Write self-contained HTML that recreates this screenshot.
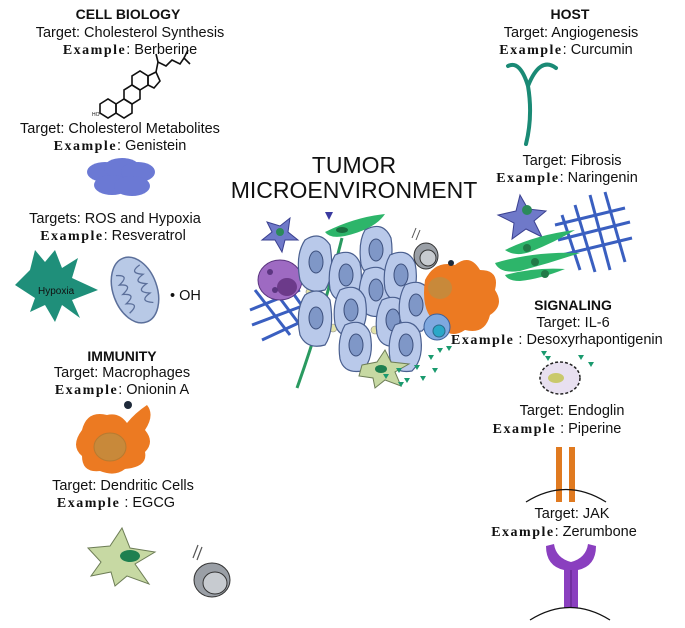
<!DOCTYPE html>
<html><head><meta charset="utf-8"><style>
html,body{margin:0;padding:0;background:#fff;overflow:hidden;}
svg{display:block;}
text{font-family:"Liberation Sans",sans-serif;font-size:14.5px;fill:#111;}
.b{font-weight:bold;font-size:14px;}
.ex{font-family:"Liberation Serif",serif;font-weight:bold;letter-spacing:1.5px;font-size:14px;}
.t{font-size:23px;}
.cell{fill:#b9c9ea;stroke:#4a5f8f;stroke-width:1.2;}
.nuc{fill:#7f97c7;stroke:#3c4f7c;stroke-width:1;}
</style></head><body>
<svg width="685" height="628" viewBox="0 0 685 628" xmlns="http://www.w3.org/2000/svg">
<!-- LEFT TEXT -->
<text x="128" y="19" text-anchor="middle" class="b">CELL BIOLOGY</text>
<text x="130" y="37" text-anchor="middle">Target: Cholesterol Synthesis</text>
<text x="130" y="54" text-anchor="middle"><tspan class="ex">Example</tspan>: Berberine</text>
<text x="120" y="133" text-anchor="middle">Target: Cholesterol Metabolites</text>
<text x="120" y="150" text-anchor="middle"><tspan class="ex">Example</tspan>: Genistein</text>
<text x="115" y="223" text-anchor="middle">Targets: ROS and Hypoxia</text>
<text x="113" y="240" text-anchor="middle"><tspan class="ex">Example</tspan>: Resveratrol</text>
<text x="122" y="361" text-anchor="middle" class="b">IMMUNITY</text>
<text x="122" y="377" text-anchor="middle">Target: Macrophages</text>
<text x="122" y="394" text-anchor="middle"><tspan class="ex">Example</tspan>: Onionin A</text>
<text x="123" y="490" text-anchor="middle">Target: Dendritic Cells</text>
<text x="116" y="507" text-anchor="middle"><tspan class="ex">Example</tspan> : EGCG</text>

<!-- RIGHT TEXT -->
<text x="570" y="19" text-anchor="middle" class="b">HOST</text>
<text x="571" y="37" text-anchor="middle">Target: Angiogenesis</text>
<text x="566" y="54" text-anchor="middle"><tspan class="ex">Example</tspan>: Curcumin</text>
<text x="572" y="165" text-anchor="middle">Target: Fibrosis</text>
<text x="567" y="182" text-anchor="middle"><tspan class="ex">Example</tspan>: Naringenin</text>
<text x="573" y="310" text-anchor="middle" class="b">SIGNALING</text>
<text x="573" y="327" text-anchor="middle">Target: IL-6</text>
<text x="451" y="344"><tspan class="ex">Example</tspan> : Desoxyrhapontigenin</text>
<text x="572" y="415" text-anchor="middle">Target: Endoglin</text>
<text x="557" y="433" text-anchor="middle"><tspan class="ex">Example</tspan> : Piperine</text>
<text x="572" y="518" text-anchor="middle">Target: JAK</text>
<text x="564" y="536" text-anchor="middle"><tspan class="ex">Example</tspan>: Zerumbone</text>

<!-- TITLE -->
<text x="354" y="173" text-anchor="middle" class="t">TUMOR</text>
<text x="354" y="198" text-anchor="middle" class="t">MICROENVIRONMENT</text>

<!-- Steroid -->
<g fill="none" stroke="#111" stroke-width="1.6" transform="translate(0,6)">
<polygon points="100,98 108,93 116,98 116,107 108,112 100,107"/>
<polygon points="116,98 124,93 132,98 132,107 124,112 116,107"/>
<polygon points="124,93 124,84 132,79 140,84 140,93 132,98"/>
<polygon points="140,84 148,79 148,70 140,65 132,70 132,79"/>
<polygon points="148,70 156,66 160,75 154,82 148,79"/>
<polyline points="156,66 158,56 166,60 172,54 180,58 184,52 190,58"/>
<line x1="184" y1="52" x2="188" y2="44"/>
<line x1="158" y1="56" x2="156" y2="48"/>
</g>
<text x="92" y="116" style="font-size:5px">HO</text>

<!-- Genistein blob -->
<g fill="#5b6bd0" opacity="0.9">
<ellipse cx="105" cy="172" rx="18" ry="10"/><ellipse cx="122" cy="168" rx="18" ry="10"/><ellipse cx="138" cy="172" rx="17" ry="10"/>
<ellipse cx="112" cy="185" rx="18" ry="10"/><ellipse cx="132" cy="186" rx="18" ry="10"/>
</g>

<!-- Hypoxia -->
<polygon fill="#1f8f7a" points="15,285 30,270 35,250 45,262 55,250 62,268 78,258 72,278 98,290 72,300 80,318 62,305 55,322 45,305 30,312 35,298" />
<text x="38" y="294" style="font-size:10px">Hypoxia</text>
<!-- Mitochondrion -->
<g transform="rotate(-20 135 290)">
<ellipse cx="135" cy="290" rx="22" ry="34" fill="#b8c9e6" stroke="#5b6f9a" stroke-width="1.5"/>
<path d="M122,270 q14,4 0,10 q14,4 0,10 q14,4 0,10 q14,4 0,10 M148,268 q-14,4 0,10 q-14,4 0,10 q-14,4 0,10 q-14,4 0,10" fill="none" stroke="#5b6f9a" stroke-width="1.3"/>
</g>
<text x="170" y="300">• OH</text>

<!-- Macrophage left -->
<path d="M82,430 q5,-20 25,-15 q12,-3 20,8 q8,-10 20,-18 q8,10 -2,25 q10,12 0,22 q3,15 -20,17 q-10,8 -25,2 q-18,2 -18,-15 q-12,-10 0,-26z" fill="#ec7a22"/>
<ellipse cx="110" cy="447" rx="16" ry="14" fill="#c8893a" stroke="#b77a30"/>
<circle cx="128" cy="405" r="4" fill="#1e2a3a"/>

<!-- Dendritic cell left -->
<path d="M88,548 l22,-2 l12,-18 l8,20 l25,4 l-20,12 l14,20 l-22,-8 l-12,10 l-4,-14 l-20,4 l10,-14z" fill="#c7d9a3" stroke="#6d7d56"/>
<ellipse cx="130" cy="556" rx="10" ry="6" fill="#1e8050"/>
<line x1="193" y1="558" x2="198" y2="545" stroke="#555" stroke-width="1.2"/><line x1="197" y1="560" x2="202" y2="547" stroke="#555" stroke-width="1.2"/>
<ellipse cx="212" cy="580" rx="18" ry="17" fill="#9a9fa6" stroke="#333"/>
<ellipse cx="215" cy="583" rx="12" ry="11" fill="#c7cbd0" stroke="#333"/>

<!-- Angiogenesis Y -->
<path d="M508,66 q12,-6 20,20 q5,30 -2,58 M528,86 q12,-30 28,-18" fill="none" stroke="#1a8a75" stroke-width="4" stroke-linecap="round"/>

<!-- Fibrosis -->
<path d="M520,195 l8,14 l18,2 l-12,10 l8,16 l-16,-8 l-14,10 l2,-16 l-16,-8 l18,-4z" fill="#6f79c9" stroke="#3a4090"/>
<circle cx="527" cy="210" r="5" fill="#2b8a5a"/>
<g stroke="#3a5fc0" stroke-width="3" fill="none">
<line x1="590" y1="195" x2="610" y2="270"/><line x1="605" y1="192" x2="625" y2="262"/><line x1="575" y1="205" x2="595" y2="272"/><line x1="562" y1="215" x2="580" y2="270"/>
<line x1="555" y1="225" x2="625" y2="208"/><line x1="558" y1="240" x2="630" y2="222"/><line x1="562" y1="255" x2="632" y2="238"/>
</g>
<g fill="#2db56a">
<path d="M505,250 q30,-15 70,-20 q-20,12 -45,22 q-15,5 -25,-2z"/>
<path d="M495,263 q40,-12 85,-10 q-30,10 -60,18 q-20,3 -25,-8z"/>
<path d="M505,275 q30,-8 60,-6 q-25,10 -45,12 q-12,0 -15,-6z"/>
</g>
<circle cx="527" cy="248" r="4" fill="#227a48"/><circle cx="535" cy="262" r="4" fill="#227a48"/><circle cx="545" cy="274" r="4" fill="#227a48"/>

<!-- IL-6 cluster -->
<ellipse cx="560" cy="378" rx="20" ry="16" fill="#e8e0f0" stroke="#222" stroke-width="1.5" stroke-dasharray="3 2"/>
<ellipse cx="556" cy="378" rx="8" ry="5" fill="#c9c96b"/>
<g fill="#1a9a6e"><polygon points="541,351 547,351 544,356"/><polygon points="578,355 584,355 581,360"/><polygon points="588,362 594,362 591,367"/><polygon points="545,356 551,356 548,361"/></g>

<!-- Endoglin -->
<rect x="556" y="447" width="6" height="55" fill="#e07a20"/><rect x="569" y="447" width="6" height="55" fill="#e07a20"/>
<path d="M526,502 q40,-25 80,0" fill="none" stroke="#111" stroke-width="1.3"/>
<!-- JAK receptor -->
<path d="M546,546 q0,20 18,24 L564,608 L578,608 L578,570 q18,-4 18,-24 l-8,-2 q-2,14 -17,18 q-15,-4 -17,-18z" fill="#8a3fbf"/>
<line x1="571" y1="570" x2="571" y2="608" stroke="#5a2080" stroke-width="1"/>
<path d="M530,620 q40,-25 80,0" fill="none" stroke="#111" stroke-width="1.3"/>

<!-- CENTRAL CLUSTER -->
<g stroke="#3a5fc0" stroke-width="3" fill="none">
<line x1="255" y1="290" x2="290" y2="335"/><line x1="270" y1="285" x2="300" y2="325"/><line x1="285" y1="282" x2="305" y2="310"/>
<line x1="250" y1="310" x2="300" y2="290"/><line x1="252" y1="325" x2="305" y2="305"/><line x1="262" y1="340" x2="305" y2="320"/>
</g>
<path d="M325,232 q30,-15 60,-18 q-10,15 -40,22 q-15,3 -20,-4z" fill="#2db56a"/>
<ellipse cx="342" cy="230" rx="6" ry="3" fill="#1a6e40"/>
<path d="M342,238 q-20,80 -45,150" fill="none" stroke="#2a9a60" stroke-width="3"/>
<polygon points="267,222 280,226 290,218 288,232 298,240 285,240 282,252 275,240 262,240 272,232" fill="#6f79c9" stroke="#3a4090"/>
<circle cx="280" cy="232" r="4" fill="#2b8a5a"/>
<ellipse cx="280" cy="280" rx="22" ry="20" fill="#9e6ac2" stroke="#5b3580"/>
<ellipse cx="287" cy="287" rx="10" ry="9" fill="#6c3a8a"/>
<circle cx="270" cy="272" r="3" fill="#5b3580"/><circle cx="275" cy="290" r="3" fill="#5b3580"/>
<g fill="#e3e3a8" stroke="#888" stroke-width="0.6">
<circle cx="310" cy="280" r="4"/><circle cx="318" cy="285" r="4"/><circle cx="310" cy="292" r="4"/><circle cx="340" cy="320" r="4"/><circle cx="333" cy="328" r="4"/><circle cx="380" cy="290" r="4"/><circle cx="375" cy="330" r="4"/>
</g>
<g>
<path class="cell" d="M305,240 q15,-10 25,5 q5,30 -5,45 q-18,5 -25,-10 q-5,-25 5,-40z"/><ellipse class="nuc" cx="316" cy="262" rx="7" ry="11"/>
<path class="cell" d="M335,255 q18,-8 25,8 q5,25 -8,38 q-18,3 -22,-12 q-3,-20 5,-34z"/><ellipse class="nuc" cx="346" cy="275" rx="7" ry="11"/>
<path class="cell" d="M365,230 q18,-10 26,8 q4,25 -8,38 q-18,3 -22,-12 q-3,-22 4,-34z"/><ellipse class="nuc" cx="376" cy="250" rx="7" ry="11"/>
<path class="cell" d="M365,270 q18,-8 25,8 q5,25 -8,38 q-18,3 -22,-12 q-3,-20 5,-34z"/><ellipse class="nuc" cx="376" cy="290" rx="7" ry="11"/>
<path class="cell" d="M390,255 q18,-8 25,8 q5,25 -8,38 q-18,3 -22,-12 q-3,-20 5,-34z"/><ellipse class="nuc" cx="401" cy="275" rx="7" ry="11"/>
<path class="cell" d="M305,295 q15,-10 25,5 q5,30 -5,45 q-18,5 -25,-10 q-5,-25 5,-40z"/><ellipse class="nuc" cx="316" cy="318" rx="7" ry="11"/>
<path class="cell" d="M340,290 q18,-8 25,8 q5,25 -8,38 q-18,3 -22,-12 q-3,-20 5,-34z"/><ellipse class="nuc" cx="351" cy="310" rx="7" ry="11"/>
<path class="cell" d="M382,300 q18,-8 25,8 q5,25 -8,38 q-18,3 -22,-12 q-3,-20 5,-34z"/><ellipse class="nuc" cx="393" cy="320" rx="7" ry="11"/>
<path class="cell" d="M405,285 q18,-8 25,8 q5,25 -8,38 q-18,3 -22,-12 q-3,-20 5,-34z"/><ellipse class="nuc" cx="416" cy="305" rx="7" ry="11"/>
<path class="cell" d="M345,325 q18,-8 25,8 q5,25 -8,38 q-18,3 -22,-12 q-3,-20 5,-34z"/><ellipse class="nuc" cx="356" cy="345" rx="7" ry="11"/>
<path class="cell" d="M395,325 q18,-8 25,8 q5,25 -8,38 q-18,3 -22,-12 q-3,-20 5,-34z"/><ellipse class="nuc" cx="406" cy="345" rx="7" ry="11"/>
</g>
<path d="M362,365 l15,-3 l8,-12 l6,12 l18,2 l-14,8 l6,14 l-16,-6 l-10,8 l-2,-10 l-14,-2z" fill="#c7d9a3" stroke="#6d7d56"/>
<ellipse cx="381" cy="369" rx="6" ry="4" fill="#1e8050"/>
<path d="M425,280 q10,-20 30,-15 q15,-12 25,5 q20,0 15,20 q10,15 -5,25 q-5,20 -25,15 q-15,10 -25,-5 q-20,-10 -15,-45z" fill="#ec7a22"/>
<ellipse cx="440" cy="288" rx="12" ry="11" fill="#c8893a"/>
<circle cx="451" cy="263" r="3" fill="#1e2a3a"/>
<line x1="412" y1="238" x2="416" y2="228" stroke="#555"/><line x1="416" y1="240" x2="420" y2="230" stroke="#555"/>
<ellipse cx="426" cy="256" rx="12" ry="13" fill="#9a9fa6" stroke="#333"/>
<ellipse cx="428" cy="258" rx="8" ry="8" fill="#c7cbd0" stroke="#333"/>
<circle cx="437" cy="327" r="13" fill="#7fa8df" stroke="#3a5f9a"/>
<circle cx="439" cy="331" r="6" fill="#2aa8c8" stroke="#2a6a8a"/>
<g fill="#1a9a6e">
<polygon points="383,374 389,374 386,379"/><polygon points="396,368 402,368 399,373"/><polygon points="404,378 410,378 407,383"/>
<polygon points="414,365 420,365 417,370"/><polygon points="420,376 426,376 423,381"/><polygon points="398,382 404,382 401,387"/>
<polygon points="428,355 434,355 431,360"/><polygon points="437,348 443,348 440,353"/><polygon points="432,368 438,368 435,373"/>
<polygon points="446,346 452,346 449,351"/>
</g>
<polygon points="325,212 333,212 329,220" fill="#3a3aa0"/>
</svg>
</body></html>
